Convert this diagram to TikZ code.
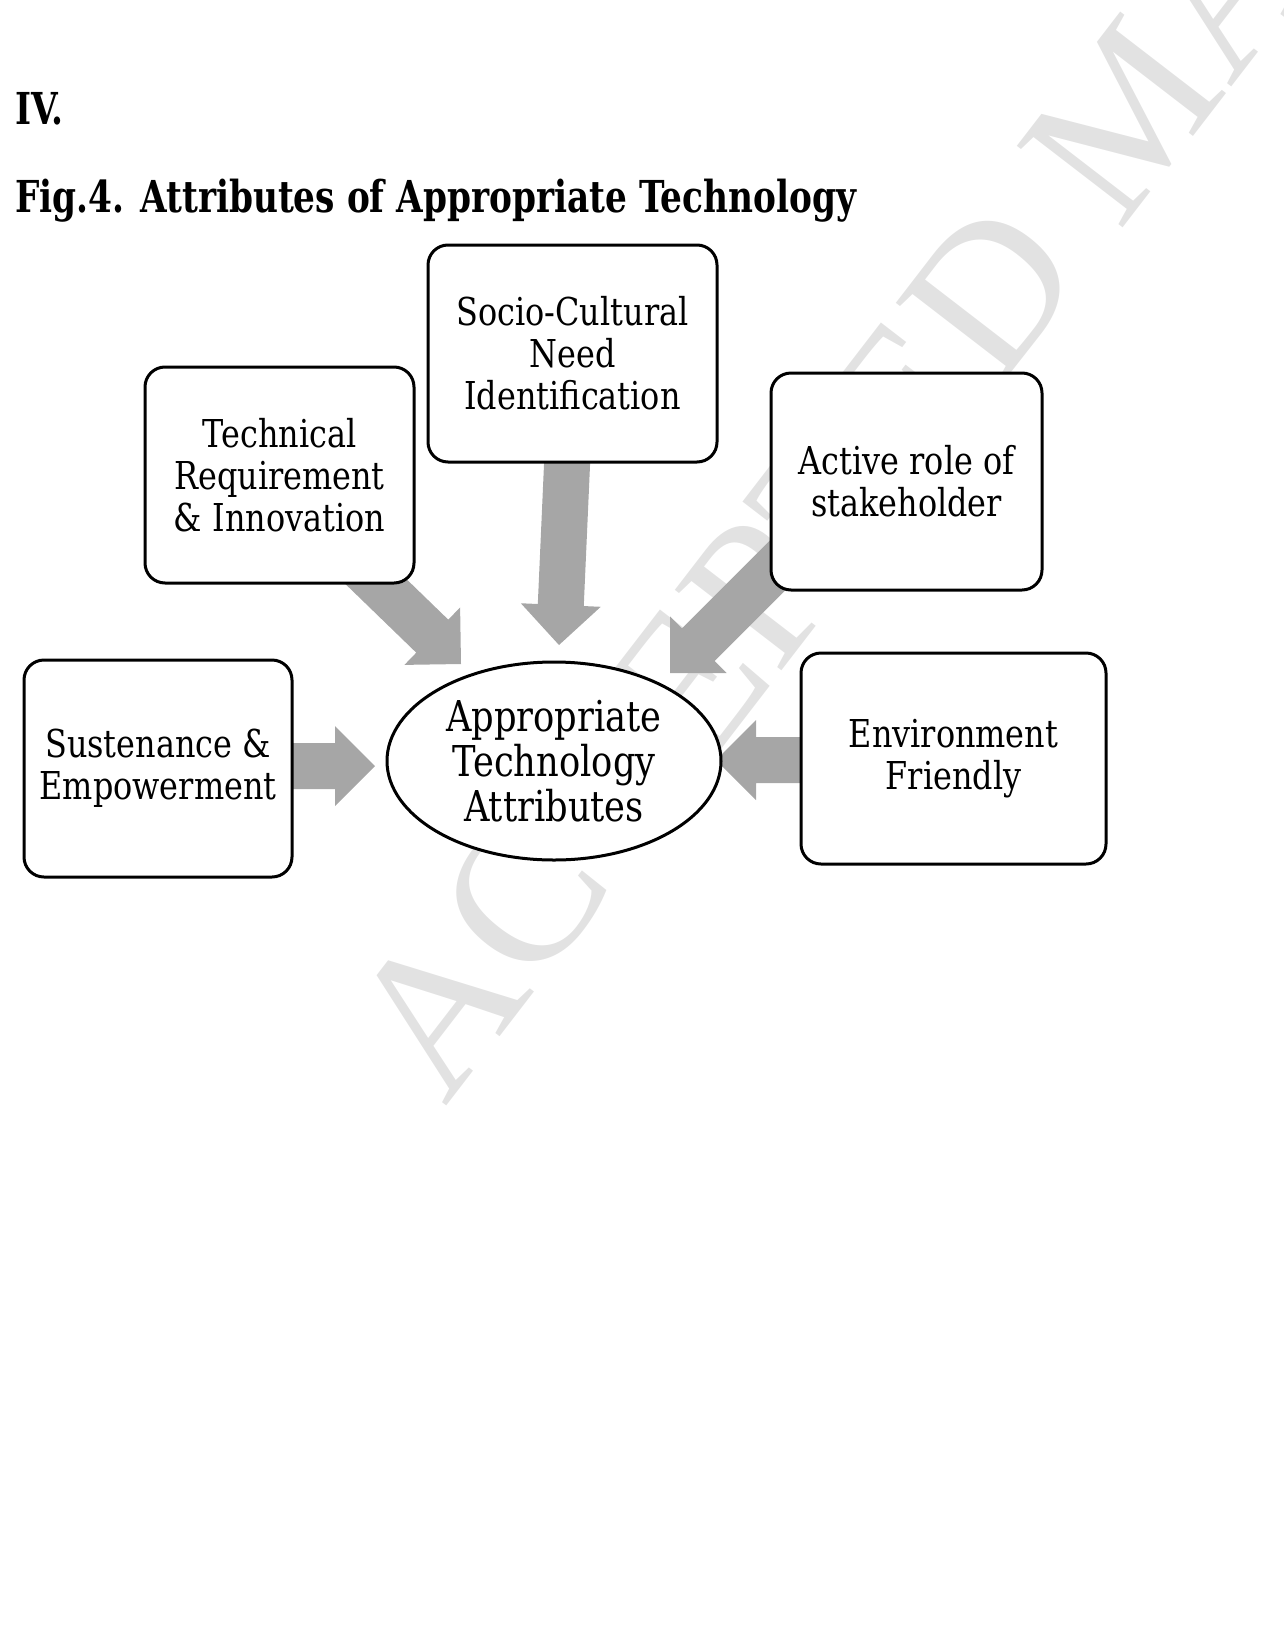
\documentclass[tikz,border=0pt]{standalone}
\usepackage{fontspec}
\usetikzlibrary{calc,shapes.geometric}
\newfontfamily\boxfam{DejaVu Serif}[FakeStretch=0.83]
\newfontfamily\titlefam{DejaVu Serif}[FakeStretch=0.78]
\newfontfamily\wmfam{Liberation Serif}
\definecolor{arrowgray}{HTML}{A6A6A6}
\definecolor{wmgray}{HTML}{E2E2E2}
\newcommand\boxfont{\boxfam\fontsize{38.4}{42}\selectfont}
\newcommand\ellfont{\boxfam\fontsize{42.5}{45}\selectfont}
\newcommand\titlefont{\titlefam\bfseries\fontsize{44}{48}\selectfont}
\newcommand\fatarrow[2]{%
  \fill[arrowgray] let \p1=(#1), \p2=(#2),
    \n1={atan2(\y2-\y1,\x2-\x1)}, \n2={veclen(\x2-\x1,\y2-\y1)-40pt}
    in ($(\p1)+(\n1+90:23pt)$)
    -- ($(\p1)+(\n1:\n2)+(\n1+90:23pt)$)
    -- ($(\p1)+(\n1:\n2)+(\n1+90:40pt)$)
    -- (\p2)
    -- ($(\p1)+(\n1:\n2)+(\n1-90:40pt)$)
    -- ($(\p1)+(\n1:\n2)+(\n1-90:23pt)$)
    -- ($(\p1)+(\n1-90:23pt)$) -- cycle;}
\tikzset{
  rbox/.style={draw=black, line width=3pt, rounded corners=20pt, fill=white,
    inner sep=0pt, align=center, font=\boxfont},
  ebox/.style={ellipse, draw=black, line width=3pt, fill=white,
    inner sep=0pt, align=center, font=\ellfont},
  heading/.style={anchor=base west, inner sep=0pt, font=\titlefont},
  watermark/.style={anchor=base west, inner sep=0pt, text=wmgray,
    font=\wmfam\fontsize{204}{210}\selectfont}
}
\begin{document}
\begin{tikzpicture}[x=1pt, y=-1pt]
\useasboundingbox (0,0) rectangle (1284,1630);
% watermark (behind everything)
\node[watermark, rotate=52.4] (wm) at (445,1108) {ACCEPTED MANUSCRIPT};
\node[heading] (sec) at (15,124) {IV.};
\node[heading] (title) at (15,212) {Fig.4. Attributes of Appropriate Technology};
% arrow end points
\coordinate (techS) at (332,539);   \coordinate (techT) at (461,664);
\coordinate (socioS) at (569,420);  \coordinate (socioT) at (559,645);
\coordinate (activeS) at (817,526); \coordinate (activeT) at (670,673);
\coordinate (sustS) at (200,766);   \coordinate (sustT) at (375,766);
\coordinate (envS) at (900,760);    \coordinate (envT) at (716,760);
\fatarrow{techS}{techT}
\fatarrow{socioS}{socioT}
\fatarrow{activeS}{activeT}
\fatarrow{sustS}{sustT}
\fatarrow{envS}{envT}
% boxes
\node[rbox, minimum width=269pt, minimum height=216pt] (tech) at (279.5,475) {Technical\\Requirement\\\& Innovation};
\node[rbox, minimum width=289pt, minimum height=217pt] (socio) at (572.5,353.5) {Socio-Cultural\\Need\\Identification};
\node[rbox, minimum width=271pt, minimum height=217pt] (active) at (906.5,481.5) {Active role of\\stakeholder};
\node[rbox, minimum width=268pt, minimum height=217pt] (sust) at (158,768.5) {Sustenance \&\\Empowerment};
\node[rbox, minimum width=305pt, minimum height=211pt] (env) at (953.5,758.5) {Environment\\Friendly};
\node[ebox, minimum width=334pt, minimum height=198pt] (core) at (554,761) {Appropriate\\Technology\\Attributes};
\end{tikzpicture}
\end{document}
